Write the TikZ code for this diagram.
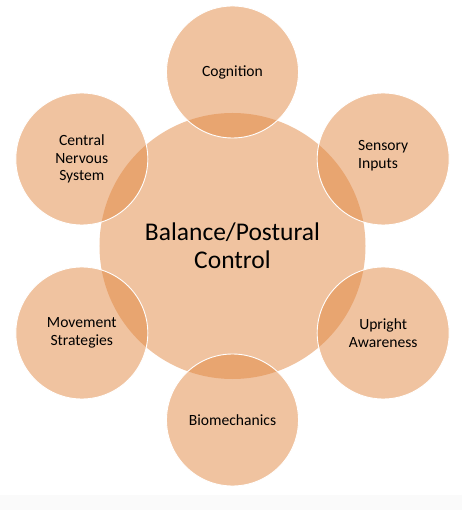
\documentclass[tikz,border=0pt]{standalone}
\usepackage{fontspec}
\setmainfont{Carlito}
\definecolor{balanceorange}{RGB}{225, 135, 65}
\usepackage{tikz}
\usetikzlibrary{positioning}

\begin{document}
\begin{tikzpicture}[
  factor/.style={circle, draw=white, line width=0.9pt, fill=balanceorange, fill opacity=0.5, text opacity=1,
    minimum size=132pt, inner sep=0pt, align=center, font=\fontsize{15.6pt}{17.7pt}\selectfont},
  hub/.style={factor, draw=none, minimum size=266pt, font=\fontsize{25.5pt}{28.3pt}\selectfont}
]
  \useasboundingbox (-232.5pt,-264pt) rectangle (229.5pt,246pt);
  \fill[gray!4] (-232.5pt,-264pt) rectangle (229.5pt,-249pt);

  % centre circle
  \node[hub] (balance) at (0,0) {Balance/Postural\\Control};

  % six factors round it
  \node[factor] (cognition) at (90:174pt) {Cognition};
  \node[factor, align=left] (sensory) at (30:174pt) {Sensory\\Inputs\\[-8pt]\mbox{}};
  \node[factor] (upright) at (-30:174pt) {Upright\\Awareness};
  \node[factor] (biomech) at (-90:174pt) {Biomechanics};
  \node[factor] (movement) at (210:174pt) {Movement\\Strategies};
  \node[factor] (cns) at (150:174pt) {Central\\Nervous\\System};
\end{tikzpicture}
\end{document}
